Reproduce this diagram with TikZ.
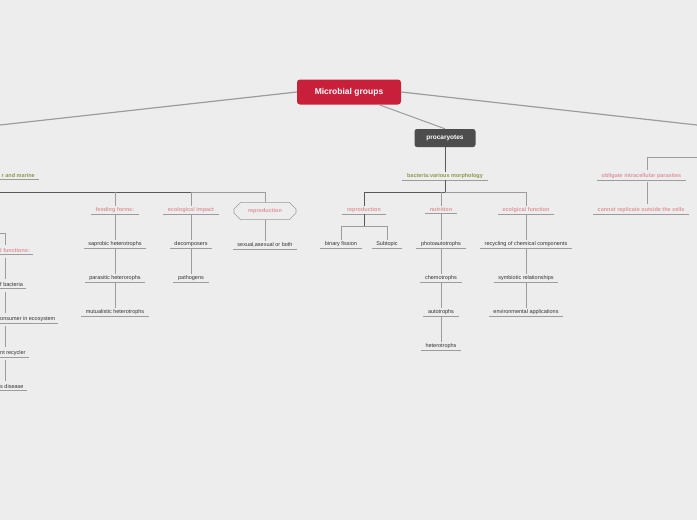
\documentclass[tikz,border=0pt]{standalone}
\usepackage{fontspec}
\setmainfont{Liberation Sans}
\usetikzlibrary{shapes.misc}
\definecolor{bg}{HTML}{EDEDED}
\definecolor{mainred}{HTML}{C8203A}
\definecolor{darkbox}{HTML}{4D4D4D}
\definecolor{pinkt}{HTML}{E0949A}
\definecolor{greent}{HTML}{8A9A4A}
\definecolor{linec}{HTML}{9C9C9C}
\begin{document}
\begin{tikzpicture}[x=1pt,y=-1pt,
  ul/.style={inner sep=1.5pt, font=\fontsize{5.5}{6}\selectfont, text=black!80,
    append after command={([xshift=-3pt]\tikzlastnode.south west) edge[draw=linec,line width=0.8pt] ([xshift=3pt]\tikzlastnode.south east)}},
  pk/.style={ul, text=pinkt, font=\fontsize{5.5}{6}\selectfont\bfseries},
  gr/.style={ul, text=greent, font=\fontsize{5.5}{6}\selectfont\bfseries},
  cn/.style={draw=linec, line width=0.7pt},
  dk/.style={draw=black!65, line width=0.7pt}]
\fill[bg] (0,0) rectangle (697,520);
\clip (0,0) rectangle (697,520);
% main
\node[fill=mainred, rounded corners=3pt, minimum width=104pt, minimum height=25pt, text=white, font=\fontsize{8.5}{10}\selectfont\bfseries] (main) at (349,92) {Microbial groups};
\node[fill=darkbox, rounded corners=2.5pt, minimum width=61pt, minimum height=18pt, text=white, font=\fontsize{6.5}{8}\selectfont\bfseries] (proc) at (445,138) {procaryotes};
\coordinate (offl) at (0,125);
\coordinate (offr) at (697,125);
\draw[linec, line width=1.2pt] (main.west) -- (offl);
\draw[linec, line width=1.2pt] (main.east) -- (offr);
\draw[linec, line width=1pt] ([xshift=30pt]main.south) -- (proc.north);
% middle branch
\node[gr] (bac) at (445,176) {bacteria:various morphology};
\draw[dk] (proc.south) -- (bac.north);
\node[pk] (rep) at (364,210) {reproduction};
\node[pk] (nut) at (441,210) {nutrition};
\node[pk] (eco) at (526,210) {ecolgical function};
\draw[dk] (bac.south) -- (445,192) -| (rep.north);
\draw[cn] (445,192) -| (eco.north);
\draw[cn] (441,192) -- (nut.north);
\node[ul] (bf) at (341,244) {binary fission};
\node[ul] (st) at (387,244) {Subtopic};
\draw[dk] (rep.south) -- (364,226);
\draw[cn] (341,226) -- (387,226);
\draw[cn] (341,226) -- (bf.north);
\draw[cn] (387,226) -- (st.north);
\node[ul] (n1) at (441,244) {photoautotrophs};
\node[ul] (n2) at (441,278) {chemotrophs};
\node[ul] (n3) at (441,312) {autotrophs};
\node[ul] (n4) at (441,346) {heterotrophs};
\draw[cn] (nut.south) -- (n1.north) (n1.south) -- (n2.north) (n2.south) -- (n3.north) (n3.south) -- (n4.north);
\node[ul] (e1) at (526,244) {recycling of chemical components};
\node[ul] (e2) at (526,278) {symbiotic relationships};
\node[ul] (e3) at (526,312) {environmental applications};
\draw[cn] (eco.south) -- (e1.north) (e1.south) -- (e2.north) (e2.south) -- (e3.north);
% right branch
\node[pk, anchor=west] (obl) at (600,176) {obligate intracellular parasites};
\coordinate (rb) at (697,157);
\draw[cn] (rb) -| (647,170);
\node[pk, anchor=west] (cann) at (596,210) {cannot replicate outside the cells};
\draw[cn] (647,182) -- (647,204);
% left branch
\node[gr, anchor=west] (fm) at (0,176) {r and marine};
\coordinate (lh) at (0,192);
\draw[dk] (lh) -- (191,192);
\draw[cn] (191,192) -- (265,192);
\node[pk] (ff) at (115,210) {feeding forms:};
\node[pk] (ei) at (191,210) {ecological impact};
\node[chamfered rectangle, chamfered rectangle xsep=3pt, draw=linec, line width=0.6pt, inner sep=2.5pt, text=pinkt, font=\fontsize{5.5}{6}\selectfont\bfseries, minimum width=62pt] (rp) at (265,211) {reproduction};
\draw[cn] (115,192) -- (ff.north) (191,192) -- (ei.north) (265,192) -- (rp.north);
\node[ul] (f1) at (115,244) {saprobic heterotrophs};
\node[ul] (f2) at (115,278) {parasitic heterorophs};
\node[ul] (f3) at (115,312) {mutualistic heterotrophs};
\draw[cn] (ff.south) -- (f1.north) (f1.south) -- (f2.north) (f2.south) -- (f3.north);
\node[ul] (i1) at (191,244) {decomposers};
\node[ul] (i2) at (191,278) {pathogens};
\draw[cn] (ei.south) -- (i1.north) (i1.south) -- (i2.north);
\node[ul] (r1) at (265,245) {sexual,asexual or both};
\draw[cn] (rp.south) -- (r1.north);
% left column
\coordinate (lb) at (0,233);
\draw[cn] (lb) -| (5,245);
\node[pk, anchor=west, inner xsep=0pt] (lf) at (0,251) {l functions:};
\node[ul, anchor=west, inner xsep=0pt] (l1) at (0,285) {f bacteria};
\node[ul, anchor=west, inner xsep=0pt] (l2) at (0,319) {onsumer in ecosystem};
\node[ul, anchor=west, inner xsep=0pt] (l3) at (0,353) {nt recycler};
\node[ul, anchor=west, inner xsep=0pt] (l4) at (0,387) {s disease};
\draw[cn] (5,258) -- (5,279) (5,292) -- (5,313) (5,326) -- (5,347) (5,360) -- (5,381);
\end{tikzpicture}
\end{document}
